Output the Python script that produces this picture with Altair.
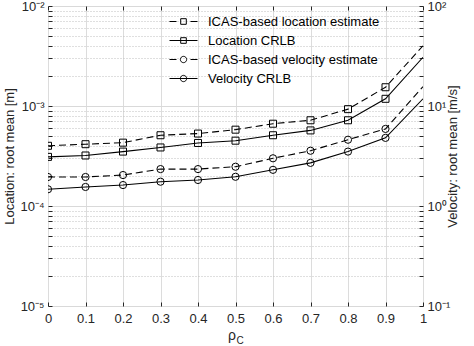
import altair as alt
import pandas as pd

# ---- data ----
rho = [0.0, 0.1, 0.2, 0.3, 0.4, 0.5, 0.6, 0.7, 0.8, 0.9, 1.0]
loc_est = [4.0e-4, 4.15e-4, 4.3e-4, 5.1e-4, 5.3e-4, 5.8e-4, 6.65e-4, 7.2e-4, 9.3e-4, 1.54e-3, 4.0e-3]
loc_crlb = [3.1e-4, 3.2e-4, 3.5e-4, 3.85e-4, 4.27e-4, 4.5e-4, 5.1e-4, 5.7e-4, 7.2e-4, 1.18e-3, 3.07e-3]
vel_est = [1.95, 1.95, 2.04, 2.34, 2.34, 2.47, 3.0, 3.57, 4.6, 5.9, 15.6]
vel_crlb = [1.47, 1.55, 1.62, 1.75, 1.82, 1.96, 2.3, 2.7, 3.5, 4.8, 11.8]
series_names = [
    "ICAS-based location estimate",
    "Location CRLB",
    "ICAS-based velocity estimate",
    "Velocity CRLB",
]
x_ticks = [0.0, 0.1, 0.2, 0.3, 0.4, 0.5, 0.6, 0.7, 0.8, 0.9, 1.0]
left_decades = [-5, -4, -3, -2]
right_decades = [-1, 0, 1, 2]

rows = []
for name, vals, q in zip(series_names, [loc_est, loc_crlb, vel_est, vel_crlb],
                         ["loc", "loc", "vel", "vel"]):
    for x, v in zip(rho, vals):
        rows.append({"rho": x, "value": v, "series": name, "q": q})
df = pd.DataFrame(rows)

FONT = "Liberation Sans"
TXT = "#262626"
SUP = {"-": "⁻", "0": "⁰", "1": "¹", "2": "²", "3": "³", "4": "⁴", "5": "⁵"}


def sup(e):
    return "10" + "".join(SUP[c] for c in str(e))


def minor_vals(decs):
    vals = []
    for e in decs[:-1]:
        for k in range(1, 10):
            vals.append(k * 10.0 ** e)
    vals.append(10.0 ** decs[-1])
    return vals


ISDEC = "abs(log(datum.value)/LN10 - round(log(datum.value)/LN10)) < 0.01"
EXP = "round(log(datum.value)/LN10)"


def label_expr(decs):
    expr = "''"
    for e in reversed(decs):
        expr = f"({EXP} == {e} ? '{sup(e)}' : {expr})"
    return f"{ISDEC} ? {expr} : ''"


x_label_expr = "datum.value < 0.001 ? '0' : (datum.value > 0.999 ? '1' : format(datum.value, '.1f'))"

x_scale = alt.Scale(domain=[0, 1], nice=False, zero=False)

x_bottom = alt.X(
    "rho:Q", scale=x_scale,
    axis=alt.Axis(values=x_ticks, orient="bottom", grid=True, gridColor="#dcdcdc",
                  gridWidth=1, domain=False, tickSize=4, tickColor=TXT, tickWidth=1,
                  offset=-4, labelPadding=6, labelExpr=x_label_expr, title=None,
                  labelFontSize=13, labelColor=TXT, labelFont=FONT, labelOverlap=False,
                  labelFlush=False),
)
x_top = alt.X(
    "rho:Q", scale=x_scale,
    axis=alt.Axis(values=x_ticks, orient="top", grid=False, domain=False, tickSize=4,
                  tickColor=TXT, tickWidth=1, offset=-4, labels=False, title=None),
)

y_left = alt.Y(
    "value:Q", scale=alt.Scale(type="log", domain=[1e-5, 1e-2], nice=False),
    axis=alt.Axis(values=minor_vals(left_decades), orient="left", grid=True,
                  gridColor={"condition": {"test": ISDEC, "value": "#d9d9d9"}, "value": "#bfbfbf"},
                  gridDash={"condition": {"test": ISDEC, "value": []}, "value": [1, 2]},
                  gridWidth=1, domain=False, tickSize=4, tickColor=TXT, tickWidth=1,
                  offset=-4, labelPadding=4, labelExpr=label_expr(left_decades),
                  labelOverlap=False, labelFlush=False, labelFontSize=13, labelColor=TXT,
                  labelFont=FONT, title="Location: root mean [m]", titleFont=FONT,
                  titleFontSize=13, titleFontWeight="normal", titleColor=TXT, titlePadding=3),
)
y_right = alt.Y(
    "value:Q", scale=alt.Scale(type="log", domain=[1e-1, 1e2], nice=False),
    axis=alt.Axis(values=minor_vals(right_decades), orient="right", grid=False,
                  domain=False, tickSize=4, tickColor=TXT, tickWidth=1,
                  offset=-4, labelPadding=4, labelExpr=label_expr(right_decades),
                  labelOverlap=False, labelFlush=False, labelFontSize=13, labelColor=TXT,
                  labelFont=FONT, title="Velocity: root mean [m/s]", titleFont=FONT,
                  titleFontSize=13, titleFontWeight="normal", titleColor=TXT,
                  titleAngle=270, titlePadding=10),
)

# legend glyphs: unit = 7 px (symbolSize 196), spanning -2..2 -> 28 px wide
sq = "M-0.4,-0.4H0.4V0.4H-0.4Z"
circ = "M-0.45,0A0.45,0.45,0,1,0,0.45,0A0.45,0.45,0,1,0,-0.45,0Z"
solid = "M-2,0H2"
dashed = "M-2,0H-1M1,0H2"
legend_paths = [dashed + sq, solid + sq, dashed + circ, solid + circ]


def line(name, y_enc, x_enc, dash):
    kw = dict(color="black", strokeWidth=1.1, clip=True)
    if dash:
        kw["strokeDash"] = [7, 4]
    return (alt.Chart(df).transform_filter(alt.datum.series == name)
            .mark_line(**kw).encode(x=x_enc, y=y_enc))


def points(q, shape, size, y_enc, x_enc):
    return (alt.Chart(df).transform_filter(f"datum.q == '{q}' && datum.rho < 0.95")
            .mark_point(shape=shape, size=size, filled=False, color="black",
                        strokeWidth=1, opacity=1, clip=True)
            .encode(x=x_enc, y=y_enc, detail="series:N"))


legend_layer = (
    alt.Chart(df).transform_filter("datum.rho < -1")
    .mark_point(filled=False, color="black", opacity=1)
    .encode(
        x=x_bottom, y=y_left,
        shape=alt.Shape(
            "series:N",
            scale=alt.Scale(domain=series_names, range=legend_paths),
            legend=alt.Legend(title=None, orient="none", legendX=128, legendY=8,
                              labelFontSize=13, labelFont=FONT, labelColor="black",
                              labelLimit=400,
                              symbolSize=196, symbolStrokeWidth=1,
                              symbolStrokeColor="black", symbolFillColor="transparent",
                              symbolOpacity=1, rowPadding=4.0, labelOffset=17,
                              padding=0),
        ),
    )
)

loc = alt.layer(
    line(series_names[0], y_left, x_bottom, True),
    line(series_names[1], y_left, x_bottom, False),
    points("loc", "square", 49, y_left, x_bottom),
    legend_layer,
)
vel = alt.layer(
    line(series_names[2], y_right, x_top, True),
    line(series_names[3], y_right, x_top, False),
    points("vel", "circle", 52, y_right, x_top),
)

rho_txt = alt.Chart(alt.Data(values=[{}])).mark_text(
    text="ρ", font=FONT, fontSize=14, color=TXT, align="center", baseline="middle"
).encode(x=alt.value(184), y=alt.value(330))
c_txt = alt.Chart(alt.Data(values=[{}])).mark_text(
    text="C", font=FONT, fontSize=10, color=TXT, align="center", baseline="middle"
).encode(x=alt.value(192), y=alt.value(335))

chart = (
    alt.layer(loc, vel, rho_txt, c_txt)
    .resolve_scale(y="independent")
    .resolve_axis(x="independent", y="independent")
    .properties(width=375, height=300, autosize=alt.AutoSizeParams(type="none"),
                padding={"left": 48, "top": 6, "right": 51, "bottom": 40})
    .configure_view(stroke="black", strokeWidth=1.5)
    .configure(font=FONT)
)

chart.save("out.html", embed_options={"renderer": "svg", "actions": False})
